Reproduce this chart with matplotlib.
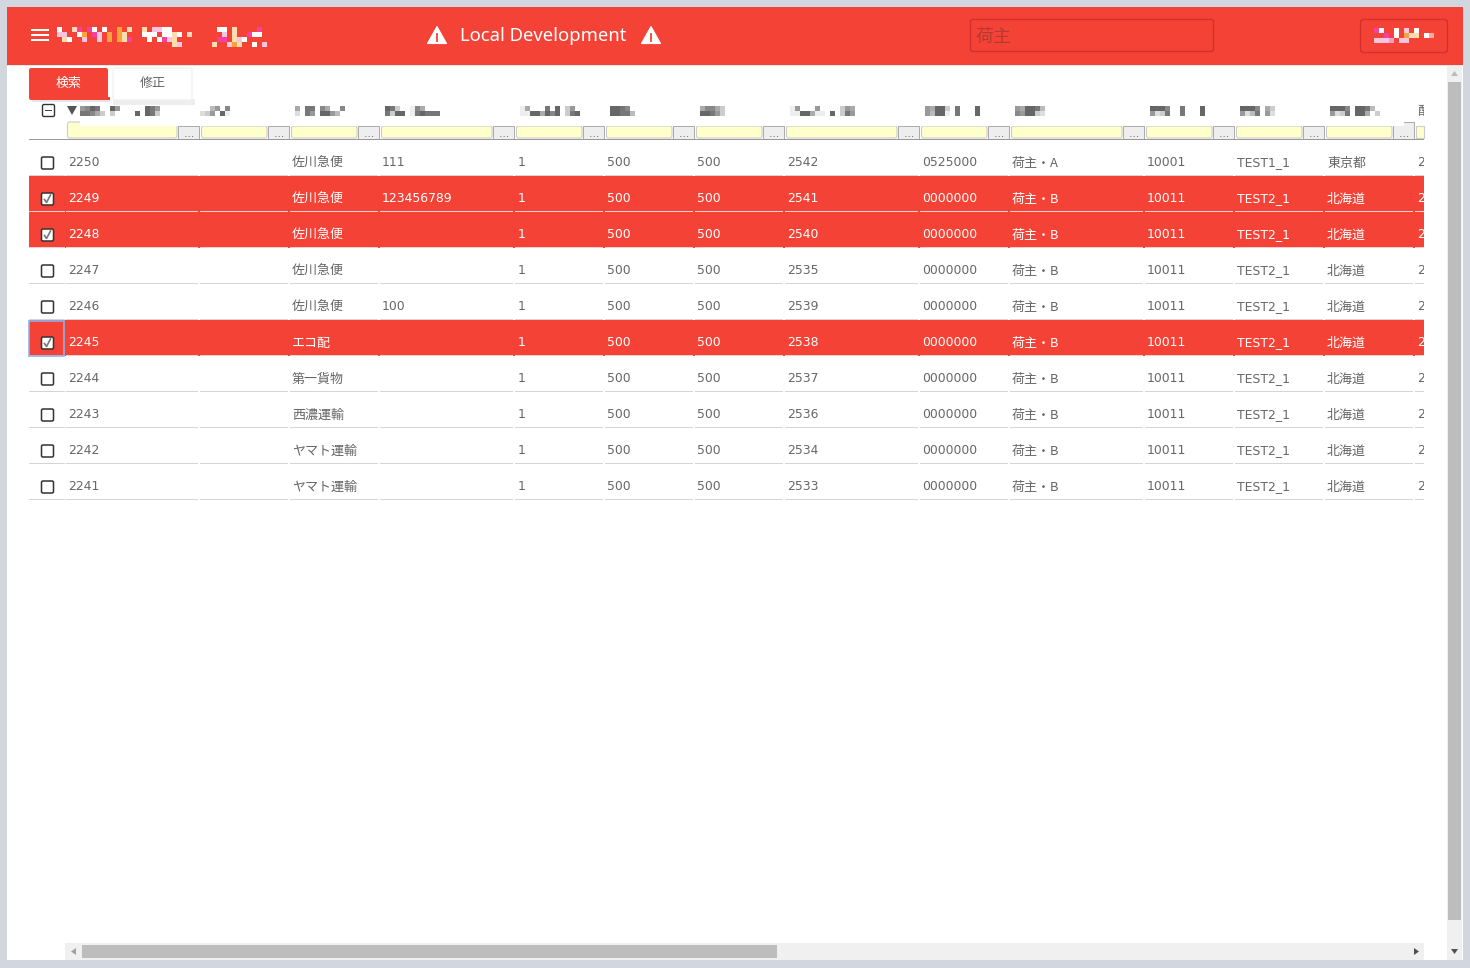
import matplotlib
matplotlib.use("Agg")
import matplotlib.pyplot as plt
from matplotlib.patches import Rectangle, FancyBboxPatch, Polygon

plt.rcParams['font.family'] = ['Noto Sans CJK JP', 'DejaVu Sans']

# ---- data ----
ids = ["2250", "2249", "2248", "2247", "2246", "2245", "2244", "2243", "2242", "2241"]
blank = [""] * 10
carriers = ["佐川急便", "佐川急便", "佐川急便", "佐川急便", "佐川急便", "エコ配", "第一貨物", "西濃運輸", "ヤマト運輸", "ヤマト運輸"]
tracking = ["111", "123456789", "", "", "100", "", "", "", "", ""]
qty = ["1"] * 10
val_a = ["500"] * 10
val_b = ["500"] * 10
codes = ["2542", "2541", "2540", "2535", "2539", "2538", "2537", "2536", "2534", "2533"]
zips = ["0525000"] + ["0000000"] * 9
shippers = ["荷主・A"] + ["荷主・B"] * 9
shipper_ids = ["10001"] + ["10011"] * 9
tests = ["TEST1_1"] + ["TEST2_1"] * 9
prefs = ["東京都"] + ["北海道"] * 9
last_col = ["2"] * 10
selected = [False, True, True, False, False, True, False, False, False, False]
columns = [ids, blank, carriers, tracking, qty, val_a, val_b, codes, zips, shippers,
           shipper_ids, tests, prefs, last_col]
tabs = ["検索", "修正"]
banner = "Local Development"
search_hint = "荷主"
last_header = "配"

title_mosaic = [
    "W..CP.PW.W..O.C..C.LLWW.........WW.C....P.",
    "LL..WO.PL.O.OC...WWW.WWCW.C......L.C..PWW.",
    ".CW..L..L.O.OCP...W.WPLC........PP.CLW....",
    ".......................CL......C..LOC..W.L",
]
user_mosaic = ["PW..W.L.W...", "..P.W.OCC.WS", "LLLM.LL....."]
header_mosaics = [
    (80, ["9867..69.....679", "778ac.c....6.67c"]),
    (200, ["..b9.8", "dc9.6e"]),
    (295, ["a.77.8a..8", "d.79.669b."]),
    (385, ["67c..e8a...", "7c66.e76777"]),
    (520, ["ea...7.6.c9.", "ee66a686.c76"]),
    (610, ["6678.", "6677b"]),
    (700, ["a88ac", "6679c"]),
    (790, ["e9...9....c9a", "ee66aee.6.c79"]),
    (925, ["9a66c.7...6", "9b66e.7...6"]),
    (1015, ["9a667b", "8966cd"]),
    (1150, ["6668..7...6", "9dc7..7...6"]),
    (1240, ["6668.ac", "9db7.9d"]),
    (1330, ["6668.667b.", "9dc7.66a.c"]),
]

# ---- layout / style ----
RED = "#F44336"
OUTER = "#D2D6DF"
TXT = "#666666"
PAL = {"W": "#FFFFFF", "P": "#F5409F", "L": "#F8C4E0", "O": "#FBA33A", "C": "#FCDDB0",
       "M": "#F59BCB", "S": "#FBA99E"}
col_x = [66, 200, 290, 380, 515, 605, 695, 785, 920, 1010, 1145, 1235, 1325, 1415]
text_x = [68, 202, 292, 382, 518, 607, 697, 787, 922, 1012, 1147, 1237, 1327, 1417]
RIGHT = 1424
FS = 13.0 * 0.72
FS_LATIN = 12.4 * 0.72


def rect(ax, x0, y0, x1, y1, fc, ec="none", lw=0, z=1, **kw):
    p = Rectangle((x0, y0), x1 - x0, y1 - y0, facecolor=fc, edgecolor=ec, linewidth=lw, zorder=z, **kw)
    ax.add_patch(p)
    return p


def rrect(ax, x0, y0, x1, y1, fc, ec="none", lw=0, r=2, z=1):
    p = FancyBboxPatch((x0 + r, y0 + r), x1 - x0 - 2 * r, y1 - y0 - 2 * r,
                       boxstyle=f"round,pad={r},rounding_size={r}",
                       facecolor=fc, edgecolor=ec, linewidth=lw, zorder=z)
    ax.add_patch(p)
    return p


def mosaic(ax, x, y, rows, size=5, w=None, z=5):
    w = w or size
    for j, row in enumerate(rows):
        for i, c in enumerate(row):
            if c == ".":
                continue
            col = PAL[c] if c in PAL else "#" + c * 6
            rect(ax, x + i * w, y + j * size, x + (i + 1) * w, y + (j + 1) * size, col, z=z, antialiased=False)


def checkbox(ax, cy, checked):
    rrect(ax, 41.5, cy - 6, 53.5, cy + 6, "white", "#333333", 1.1, r=1.5, z=6)
    if checked:
        ax.plot([44.5, 46.5, 50.5], [cy + 0.5, cy + 3.5, cy - 4], color="#777777", lw=1.2, zorder=7)


def warn(ax, cx, cy):
    ax.add_patch(Polygon([(cx - 9.5, cy + 8.5), (cx + 9.5, cy + 8.5), (cx, cy - 8.5)], closed=True,
                         facecolor="white", edgecolor="white", lw=0.8, joinstyle="round", zorder=5))
    ax.plot([cx, cx], [cy - 1.5, cy + 2.5], color=RED, lw=1.3, zorder=6)
    ax.plot([cx, cx], [cy + 4, cy + 5.6], color=RED, lw=1.3, zorder=6)


def cell_text(ax, x, y, s, color, clip):
    latin = s.isascii()
    tx = ax.text(x, y, s, color=color, fontsize=FS_LATIN if latin else FS, ha="left", va="center", zorder=4,
                 family="DejaVu Sans" if latin else ["Noto Sans CJK JP", "DejaVu Sans"])
    tx.set_clip_on(True)
    tx.set_clip_path(clip)
    return tx


fig = plt.figure(figsize=(14.7, 9.68), dpi=100, facecolor=OUTER)
ax = fig.add_axes([0, 0, 1, 1])
ax.set_xlim(0, 1470)
ax.set_ylim(968, 0)
ax.axis("off")

# page and top bar
rect(ax, 7, 7, 1463, 960, "white", z=0)
rect(ax, 7, 7, 1463, 65, RED)
rect(ax, 7, 65, 1463, 66, "#E4E4E4")
for y in (29, 34, 39):
    rect(ax, 31, y, 49, y + 2.4, "white", z=3)
mosaic(ax, 57, 27, title_mosaic)
warn(ax, 437, 35)
warn(ax, 651, 35)
ax.text(460, 36, banner, color="white", fontsize=18.5 * 0.72, va="center", ha="left", family="Noto Sans")
rrect(ax, 970.5, 19.5, 1213.5, 51.5, RED, "#D32F2F", 1.0, r=2)
ax.text(975, 36.5, search_hint, color="#B5392F", fontsize=18 * 0.72, va="center", ha="left")
rrect(ax, 1360.5, 19.5, 1447.5, 52.5, RED, "#D32F2F", 1.0, r=3)
mosaic(ax, 1374, 28, user_mosaic)

# tabs
rect(ax, 113, 99, 195, 105, "#EEEEEE", z=1)
rect(ax, 80, 97, 110, 101, RED, z=1)
rrect(ax, 29, 68, 108, 100, RED, r=2, z=3)
rect(ax, 32, 100, 110, 102, "#E6E6E6", z=1)
rrect(ax, 113, 68, 192, 100, "white", "#F0F0F0", 0.8, r=2, z=3)
ax.text(68.5, 83, tabs[0], color="white", fontsize=FS, ha="center", va="center", zorder=4)
ax.text(152.5, 83, tabs[1], color=TXT, fontsize=FS, ha="center", va="center", zorder=4)

# table head
rrect(ax, 42.5, 104.5, 54.5, 116.5, "white", "#333333", 1.0, r=1.5, z=5)
rect(ax, 45, 110, 52, 111.2, "#444444", z=6)
ax.add_patch(Polygon([(67, 106), (77, 106), (72, 115)], closed=True, facecolor="#555555", zorder=5))
for x, rows in header_mosaics:
    mosaic(ax, x, 106, rows)
clip = Rectangle((0, 0), RIGHT, 968, transform=ax.transData)
cell_text(ax, text_x[-1], 111, last_header, TXT, clip)

for i, x0 in enumerate(col_x):
    if i + 1 == len(col_x):
        rect(ax, x0 + 1.5, 126, RIGHT, 138, "#FFFFCC", "#CCCCCC", 0.8, z=2)
    else:
        x1 = col_x[i + 1]
        btn_l = x1 - 23
        y_top = 122 if i == 0 else 126
        rrect(ax, x0 + 1.5, y_top, btn_l, 138, "#FFFFCC", "#CCCCCC", 0.8, r=2, z=2)
        y_btn = 122 if i == len(col_x) - 2 else 126
        rect(ax, btn_l + 1, y_btn, x1 - 1, 138.5, "#EEEEEE", "#AAAAAA", 0.7, z=2)
        ax.text((btn_l + x1) / 2, 134, "…", color="#666666", fontsize=7.5, ha="center", va="center",
                family="DejaVu Sans", zorder=3)
rect(ax, 80, 118, 1404, 126, "white", z=3)
rect(ax, 29, 139, RIGHT, 140.2, "#999999", z=3)

# rows
for r in range(len(ids)):
    top = 140 + 36 * r
    bottom = top + 36
    cy = top + 23
    on = selected[r]
    if on:
        rect(ax, 29, top, RIGHT, bottom - 0.5, RED, z=1)
    segs = [(29, 65)] + [(col_x[i], (col_x[i + 1] if i + 1 < len(col_x) else RIGHT + 2) - 2) for i in range(len(col_x))]
    for a, b in segs:
        rect(ax, a, bottom - 1, min(b, RIGHT), bottom, "#FBD0CC" if on else "#D5D5D5", z=2)
    checkbox(ax, top + 23, on)
    fg = "white" if on else TXT
    for c, vals in enumerate(columns):
        if vals[r]:
            cell_text(ax, text_x[c], cy, vals[r], fg, clip)

# focused cell
rect(ax, 29.5, 320.5, 64.5, 355.5, "none", "#8FB0EA", 1.2, z=6)

# scrollbars
rect(ax, 1447, 66, 1462, 960, "#F0F0F0", z=1)
rect(ax, 1448, 82, 1461, 920, "#BDBDBD", z=2)
ax.add_patch(Polygon([(1451, 76), (1458, 76), (1454.5, 71)], closed=True, facecolor="#BBBBBB", zorder=3))
ax.add_patch(Polygon([(1451, 949), (1458, 949), (1454.5, 954)], closed=True, facecolor="#505050", zorder=3))
rect(ax, 65, 943, RIGHT, 960, "#F0F0F0", z=1)
rect(ax, 82, 945, 777, 958, "#BDBDBD", z=2)
ax.add_patch(Polygon([(76, 948), (76, 955), (71, 951.5)], closed=True, facecolor="#A0A0A0", zorder=3))
ax.add_patch(Polygon([(1414, 948), (1414, 955), (1419, 951.5)], closed=True, facecolor="#505050", zorder=3))

fig.savefig("out.png", dpi=100, facecolor=OUTER)
